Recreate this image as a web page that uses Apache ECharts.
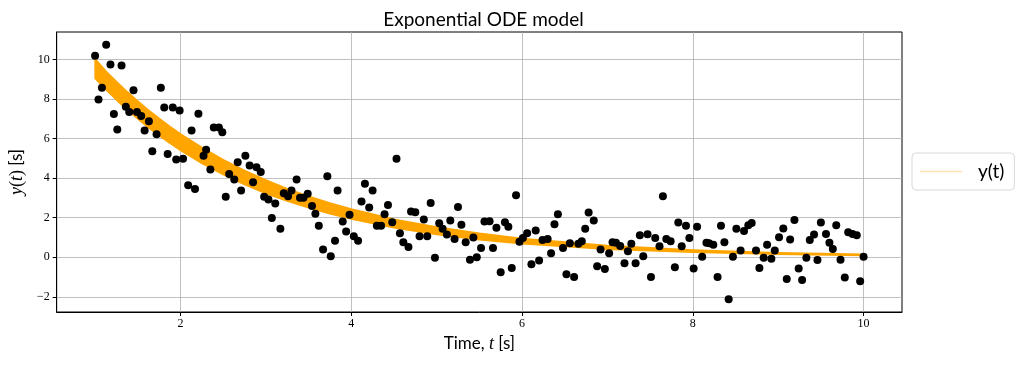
<!DOCTYPE html>
<html><head><meta charset="utf-8">
<script src="https://cdn.jsdelivr.net/npm/echarts@6/dist/echarts.min.js"></script>
<style>html,body{margin:0;padding:0;background:#fff}#c{width:1024px;height:365px}</style>
</head><body><div id="c"></div>
<script>
const tObs = [
1.00,1.04,1.08,1.13,1.18,1.22,1.26,1.31,1.36,1.40,1.45,1.49,1.54,1.58,1.63,1.67,1.72,1.77,1.81,1.85,1.91,1.95,1.99,2.03,2.09,2.13,2.17,2.21,2.27,2.30,2.35,2.39,2.45,2.49,2.53,2.57,2.63,2.67,2.71,2.76,2.81,2.85,2.89,2.94,2.98,3.03,3.07,3.11,
3.17,3.21,3.26,3.30,3.36,3.40,3.44,3.49,3.54,3.58,3.62,3.67,3.72,3.76,3.81,3.84,3.90,3.94,3.98,4.03,4.08,4.12,4.16,4.21,4.25,4.30,4.35,4.39,4.43,4.48,4.53,4.57,4.61,4.67,4.70,4.75,4.80,4.85,4.89,4.93,4.98,5.03,5.07,5.12,5.16,5.21,5.25,5.29,5.34,5.39,5.43,5.47,5.52,5.56,
5.62,5.66,5.70,5.75,5.80,5.84,5.88,5.93,5.97,6.01,6.06,6.11,6.16,6.20,6.24,6.30,6.34,6.38,6.42,6.48,6.52,6.56,6.61,6.66,6.70,6.74,6.78,6.84,6.88,6.92,6.97,7.02,7.06,7.10,7.15,7.20,7.24,7.28,7.33,7.38,7.42,7.47,7.51,7.56,7.61,7.65,7.69,7.74,7.79,7.83,7.87,7.92,7.96,8.01,
8.05,8.11,8.16,8.19,8.24,8.29,8.33,8.37,8.42,8.47,8.51,8.56,8.60,8.65,8.69,8.74,8.78,8.83,8.87,8.92,8.96,9.01,9.06,9.10,9.14,9.19,9.24,9.28,9.33,9.37,9.42,9.46,9.50,9.56,9.60,9.64,9.68,9.73,9.78,9.82,9.87,9.92,9.96,10.00
];
const yObs = [
10.20,7.99,8.58,10.76,9.75,7.25,6.47,9.70,7.62,7.35,8.45,7.35,7.15,6.42,6.88,5.37,6.22,8.58,7.58,5.22,7.58,4.95,7.43,4.98,3.65,6.42,3.46,7.26,5.14,5.44,4.44,6.57,6.57,6.33,3.06,4.22,3.94,4.81,3.38,5.14,4.65,3.80,4.56,4.31,3.06,2.92,1.99,2.72,
1.44,3.24,3.09,3.38,3.94,3.01,3.01,3.21,2.60,2.20,1.59,0.39,4.10,0.05,0.84,3.38,1.81,1.30,2.15,1.06,0.84,2.82,3.72,2.52,3.38,1.59,1.59,2.18,2.65,1.77,4.98,1.22,0.76,0.52,2.31,2.28,1.06,1.91,1.06,2.74,-0.02,1.72,1.44,1.15,1.86,0.93,2.55,1.64,0.76,-0.12,1.00,0.00,0.47,1.81,
1.82,0.47,1.49,-0.76,1.77,1.54,-0.54,3.14,0.78,0.98,1.22,-0.35,1.35,-0.17,0.88,0.93,0.20,1.67,2.18,0.47,-0.86,0.71,-1.00,0.68,0.81,1.44,2.26,1.86,-0.46,0.39,-0.59,0.20,0.76,0.73,0.57,-0.30,0.30,0.68,-0.30,1.11,0.05,1.17,-1.00,0.98,0.56,3.09,0.93,0.81,-0.51,1.76,0.56,1.59,0.98,-0.57,
1.55,0.02,0.74,0.71,0.63,-1.00,1.59,0.76,-2.13,0.02,1.44,0.34,1.33,1.62,1.74,0.34,-0.54,-0.02,0.63,-0.07,0.34,1.01,1.45,-1.10,0.90,1.89,-0.57,-1.15,-0.03,0.88,1.15,-0.14,1.76,1.18,0.74,0.42,1.62,-0.12,-1.03,1.27,1.18,1.11,-1.22,0.02
];
const tBand     = [1.00, 1.125, 1.25, 1.375, 1.50, 1.625, 1.75, 1.875, 2.00, 2.25, 2.50, 2.75, 3.00, 3.25, 3.50, 3.75, 4.00, 4.50, 5.00, 5.50, 6.00, 7.00, 8.00, 9.00, 10.00];
const bandUpper = [10.05, 9.43, 8.89, 8.38, 7.91, 7.45, 7.03, 6.63, 6.25, 5.56, 4.94, 4.39, 3.91, 3.47, 3.09, 2.75, 2.44, 1.93, 1.53, 1.21, 0.95, 0.60, 0.37, 0.23, 0.15];
const bandLower = [9.05, 8.49, 7.96, 7.46, 7.00, 6.56, 6.15, 5.77, 5.41, 4.75, 4.18, 3.68, 3.23, 2.84, 2.50, 2.20, 1.93, 1.49, 1.15, 0.89, 0.69, 0.41, 0.25, 0.15, 0.09];
const xTicks = [2, 4, 6, 8, 10];
const yTicks = [-2, 0, 2, 4, 6, 8, 10];

const chart = echarts.init(document.getElementById('c'), null, {renderer: 'canvas'});
const serif = '"Liberation Serif", "DejaVu Serif", serif';
const sans = 'Lato, "Open Sans", "DejaVu Sans", sans-serif';
const fmt = v => v < 0 ? '\u2212' + (-v) : String(v);

const option = {
  animation: false,
  backgroundColor: '#fff',
  title: {
    text: 'Exponential ODE model',
    left: 478.5, top: 5, textAlign: 'center',
    textStyle: {fontFamily: sans, fontSize: 19, fontWeight: 'normal', color: '#000'}
  },
  legend: {
    data: [{name: 'y(t)', icon: 'path://M0,0 L42,0 L42,1.5 L0,1.5 Z'}],
    left: 912, top: 153,
    orient: 'vertical',
    selectedMode: false,
    itemWidth: 42, itemHeight: 1.5,
    padding: [8, 10, 8, 8],
    borderColor: '#d9d9d9', borderWidth: 1, borderRadius: 4,
    backgroundColor: '#fff',
    textStyle: {fontFamily: sans, fontSize: 19, color: '#000', padding: [0, 0, 0, 11], lineHeight: 21}
  },
  grid: {left: 55, right: 122, top: 32, bottom: 53, show: true, borderColor: '#000', borderWidth: 1, containLabel: false},
  xAxis: {
    type: 'value', min: 0.55, max: 10.45,
    name: '{a|Time, }{i|t}{a| [s]}',
    nameLocation: 'middle', nameGap: 20,
    nameTextStyle: {rich: {
      a: {fontFamily: sans, fontSize: 17, color: '#000'},
      i: {fontFamily: serif, fontStyle: 'italic', fontSize: 18, color: '#000'}
    }},
    axisLine: {show: true, onZero: false, lineStyle: {color: '#000', width: 1}},
    axisTick: {show: true, length: 4, customValues: xTicks, lineStyle: {color: '#000'}},
    axisLabel: {customValues: xTicks, formatter: fmt, fontFamily: serif, fontSize: 12, color: '#000', margin: 6},
    splitLine: {show: true, lineStyle: {color: '#b0b0b0', width: 0.8}}
  },
  yAxis: {
    type: 'value', min: -2.77, max: 11.40,
    name: '{i|y}{p|(}{i|t}{p|)}{a| [s]}',
    nameLocation: 'middle', nameGap: 28, nameRotate: 90,
    nameTextStyle: {rich: {
      a: {fontFamily: sans, fontSize: 17, color: '#000'},
      i: {fontFamily: serif, fontStyle: 'italic', fontSize: 18, color: '#000'},
      p: {fontFamily: serif, fontSize: 18, color: '#000'}
    }},
    axisLine: {show: true, onZero: false, lineStyle: {color: '#000', width: 1}},
    axisTick: {show: true, length: 4, customValues: yTicks, lineStyle: {color: '#000'}},
    axisLabel: {customValues: yTicks, formatter: fmt, fontFamily: serif, fontSize: 12, color: '#000', margin: 7},
    splitLine: {show: true, lineStyle: {color: '#b0b0b0', width: 0.8}}
  },
  series: [
    {
      name: 'band', type: 'custom', silent: true, z: 2,
      data: tBand.map((t, i) => [t, bandUpper[i], bandLower[i]]),
      encode: {x: 0, y: [1, 2]},
      renderItem: function (params, api) {
        if (params.dataIndex !== 0) return null;
        const pts = [];
        for (let i = 0; i < tBand.length; i++) pts.push(api.coord([tBand[i], bandUpper[i]]));
        for (let i = tBand.length - 1; i >= 0; i--) pts.push(api.coord([tBand[i], bandLower[i]]));
        return {type: 'polygon', shape: {points: pts}, style: {fill: '#FFA500', stroke: '#FFA500', lineWidth: 1.5, lineJoin: 'round'}};
      }
    },
    {
      name: 'y(t)', type: 'line', data: [], symbol: 'none',
      itemStyle: {color: 'rgba(255,165,0,0.3)'},
      lineStyle: {color: 'rgba(255,165,0,0.3)', width: 1.5}
    },
    {
      name: 'obs', type: 'scatter', z: 5,
      data: tObs.map((t, i) => [t, yObs[i]]),
      symbol: 'circle', symbolSize: 8,
      itemStyle: {color: '#000', opacity: 1}
    }
  ]
};
chart.setOption(option);
</script>
</body></html>
